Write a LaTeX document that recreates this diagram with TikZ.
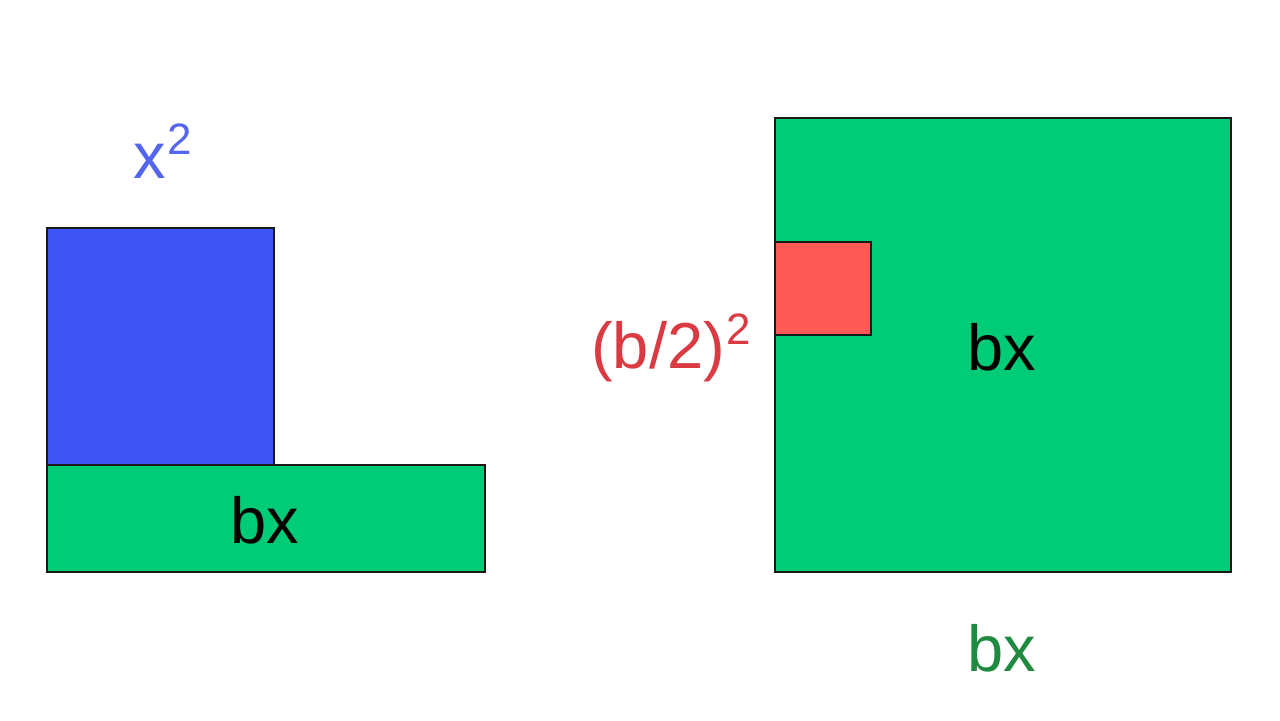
\documentclass[tikz,border=0pt]{standalone}
\usepackage{fontspec}
\setmainfont{Liberation Sans}
\definecolor{blaufl}{HTML}{3F55F5}
\definecolor{gruenfl}{HTML}{00CC77}
\definecolor{rotfl}{HTML}{FF5A55}
\definecolor{blautxt}{HTML}{5566EE}
\definecolor{rottxt}{HTML}{DA3A42}
\definecolor{gruentxt}{HTML}{1F8A40}
\begin{document}
\begin{tikzpicture}[line width=1.4pt,
  feld/.style={draw=black!90},
  schrift/.style={inner sep=0pt,font=\fontsize{37}{40}\selectfont}]
\def\ds{0.02}
\def\punkt#1#2{({(#1)*\ds},{-(#2)*\ds})}
\def\hoch#1{\kern1pt\raisebox{0.36em}{\fontsize{25}{27}\selectfont #1}}
\useasboundingbox \punkt{0}{0} rectangle \punkt{1280}{720};
% linke Seite
\draw[feld,fill=blaufl] \punkt{47}{228} rectangle \punkt{274}{465};
\draw[feld,fill=gruenfl] \punkt{47}{465} rectangle \punkt{485}{572};
\node[schrift,text=blautxt,anchor=base west] (xq) at \punkt{132}{178} {x\hoch{2}};
\node[schrift] (bxl) at \punkt{265}{520} {bx};
% rechte Seite
\draw[feld,fill=gruenfl] \punkt{775}{118} rectangle \punkt{1231}{572};
\draw[feld,fill=rotfl] \punkt{775}{242} rectangle \punkt{871}{335};
\node[schrift,text=rottxt,anchor=base west] (bhq) at \punkt{590}{368} {(b/2)\hoch{2}};
\node[schrift] (bxr) at \punkt{1002}{347} {bx};
\node[schrift,text=gruentxt] (bxu) at \punkt{1002}{648} {bx};
\end{tikzpicture}
\end{document}
